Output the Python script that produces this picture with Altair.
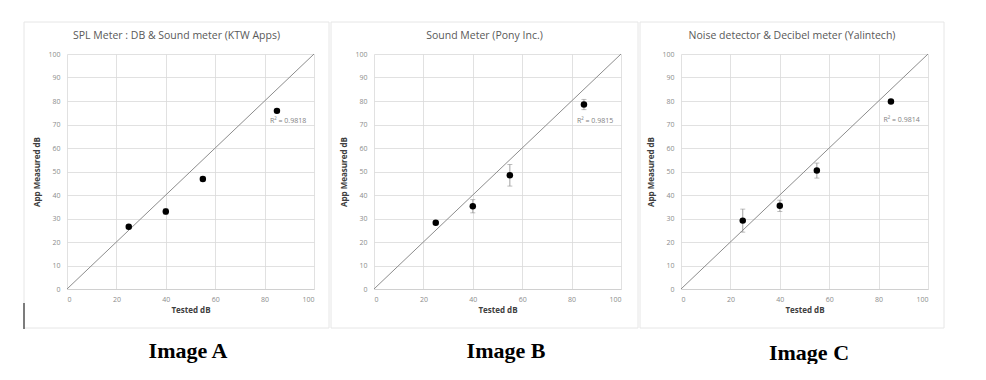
import altair as alt
import pandas as pd

# ---- data ----
tested = [25, 40, 55, 85]
a_vals = [26.5, 33.0, 46.8, 75.8]
a_err = [0.6, 1.3, 1.0, 0.8]
b_vals = [28.2, 35.2, 48.4, 78.5]
b_err = [0.5, 2.8, 4.6, 2.2]
c_vals = [29.1, 35.4, 50.4, 79.8]
c_err = [4.9, 2.4, 3.2, 0.5]

titles = [
    "SPL Meter : DB & Sound meter (KTW Apps)",
    "Sound Meter (Pony Inc.)",
    "Noise detector & Decibel meter (Yalintech)",
]
captions = ["Image A", "Image B", "Image C"]
r2_labels = ["R² = 0.9818", "R² = 0.9815", "R² = 0.9814"]
r2_x = [89.5, 89.5, 89.3]
r2_y = [71.5, 71.5, 72.0]
diag_x = [0, 100]
diag_y = [0, 100]
x_ticks = [0, 20, 40, 60, 80, 100]
y_ticks = [0, 10, 20, 30, 40, 50, 60, 70, 80, 90, 100]

FONT = "Open Sans"
W, H = 247, 235

# decoration (panel frame positions in px relative to plot area)
frames = [(-43, 262), (-43, 264), (-41, 263)]
cap_x = [121, 132, 128]
cap_y = [304, 304, 306]

xscale = alt.Scale(domain=[0, 100], nice=False, zero=True)
yscale = alt.Scale(domain=[0, 100], nice=False, zero=True)

xaxis = alt.Axis(values=x_ticks, title="Tested dB", grid=True, labelOverlap=False,
                 gridColor="#d9d9d9", gridWidth=0.8, domainColor="#d0d0d0",
                 ticks=False, labelColor="#8c8c8c", labelFontSize=7, labelFont=FONT,
                 labelPadding=6, titleFont=FONT, titleFontSize=8, titleColor="#404040",
                 titleFontWeight="bold", titlePadding=4)
yaxis = alt.Axis(values=y_ticks, title="App Measured dB", grid=True, labelOverlap=False,
                 gridColor="#d9d9d9", gridWidth=0.8, domain=False,
                 ticks=False, labelColor="#8c8c8c", labelFontSize=7, labelFont=FONT,
                 labelPadding=7, titleFont=FONT, titleFontSize=8, titleColor="#404040",
                 titleFontWeight="bold", titlePadding=6)


def X(f):
    return alt.X(f, type="quantitative", scale=xscale, axis=xaxis)


def Y(f):
    return alt.Y(f, type="quantitative", scale=yscale, axis=yaxis)


def panel(i, vals, errs):
    df = pd.DataFrame({
        "x": tested,
        "y": vals,
        "lo": [v - e for v, e in zip(vals, errs)],
        "hi": [v + e for v, e in zip(vals, errs)],
    })
    diag = pd.DataFrame({"x": diag_x, "y": diag_y})
    lab = pd.DataFrame({"x": [r2_x[i]], "y": [r2_y[i]], "t": [r2_labels[i]]})
    one = pd.DataFrame({"k": [0]})

    fx0, fx1 = frames[i]
    frame = alt.Chart(one).mark_rect(filled=False, stroke="#e6e6e6", strokeWidth=1).encode(
        x=alt.value(fx0), x2=alt.value(fx1), y=alt.value(-32), y2=alt.value(274))

    base_line = alt.Chart(diag).mark_line(color="#8c8c8c", strokeWidth=1).encode(
        x=X("x"), y=Y("y"))
    err_rule = alt.Chart(df).mark_rule(color="#8c8c8c", strokeWidth=0.8).encode(
        x=X("x"), y=Y("lo"), y2="hi:Q")
    cap_lo = alt.Chart(df).mark_tick(color="#8c8c8c", thickness=0.8, size=5, orient="horizontal").encode(
        x=X("x"), y=Y("lo"))
    cap_hi = alt.Chart(df).mark_tick(color="#8c8c8c", thickness=0.8, size=5, orient="horizontal").encode(
        x=X("x"), y=Y("hi"))
    pts = alt.Chart(df).mark_circle(color="black", size=42, opacity=1).encode(
        x=X("x"), y=Y("y"))
    r2 = alt.Chart(lab).mark_text(font=FONT, fontSize=7, color="#7f7f7f").encode(
        x=X("x"), y=Y("y"), text="t:N")
    title = alt.Chart(one).mark_text(font=FONT, fontSize=10.5, color="#595959").encode(
        x=alt.value((fx0 + fx1) / 2), y=alt.value(-18), text=alt.value(titles[i]))
    cap = alt.Chart(one).mark_text(font="Liberation Serif", fontSize=22, fontWeight="bold",
                                   color="black", baseline="alphabetic").encode(
        x=alt.value(cap_x[i]), y=alt.value(cap_y[i]), text=alt.value(captions[i]))

    layers = [base_line, frame, err_rule, cap_lo, cap_hi, pts, r2, title, cap]
    if i == 0:
        bar = alt.Chart(one).mark_rule(color="#555555", strokeWidth=1.5).encode(
            x=alt.value(-43), y=alt.value(249), y2=alt.value(275))
        layers.append(bar)
    return alt.layer(*layers).properties(width=W, height=H)


chart = alt.hconcat(
    panel(0, a_vals, a_err),
    panel(1, b_vals, b_err),
    panel(2, c_vals, c_err),
    spacing=0,
).configure_view(stroke=None).properties(
    padding={"left": 23, "top": 21, "right": 0, "bottom": 0},
    background="white",
)

chart.save("out.html", embed_options={"renderer": "svg", "actions": False})
